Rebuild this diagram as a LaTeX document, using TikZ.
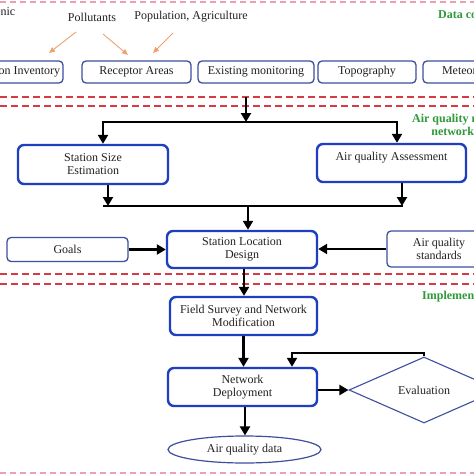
\documentclass[tikz,border=0pt]{standalone}
\usepackage{fontspec}
\setmainfont{Liberation Serif}
\usetikzlibrary{arrows.meta,shapes.geometric}
\definecolor{boxblue}{HTML}{1E3FBF}
\definecolor{thinblue}{HTML}{3D4F9E}
\definecolor{redline}{HTML}{D83A44}
\definecolor{pinkline}{HTML}{E9A0B0}
\definecolor{labgreen}{HTML}{2E9A3A}
\definecolor{arrorange}{HTML}{F0A070}
\definecolor{txt}{HTML}{222222}
\begin{document}
\begin{tikzpicture}[x=1pt,y=-1pt,
  every node/.style={font=\fontsize{12}{13}\selectfont, text=txt},
  thinbox/.style={draw=thinblue, line width=1.3pt, rounded corners=4pt, minimum height=22pt, inner sep=0pt, align=center},
  thickbox/.style={draw=boxblue, line width=2.4pt, rounded corners=6pt, minimum width=149pt, minimum height=38pt, align=center, inner sep=0pt},
  arr/.style={line width=2.2pt, -{Triangle[length=9pt,width=10pt]}},
  plainln/.style={line width=2.2pt},
  orarr/.style={draw=arrorange, line width=0.9pt, -{Triangle[length=6pt,width=5pt]}},
  sepline/.style={draw=redline, line width=1.6pt, dash pattern=on 7pt off 4pt},
  pinkedge/.style={draw=pinkline, line width=2pt, dash pattern=on 6pt off 4pt},
  phase/.style={font=\bfseries\fontsize{12}{13}\selectfont, text=labgreen, align=center, inner sep=0pt},
  lab/.style={inner sep=0pt}
]
\useasboundingbox (0,0) rectangle (474,474);
\clip (0,0) rectangle (474,474);
\fill[white] (0,0) rectangle (474,474);

% separators
\draw[pinkedge] (0,1.5) -- (474,1.5);
\draw[pinkedge] (0,472.5) -- (474,472.5);
\draw[sepline] (0,97) -- (474,97);
\draw[sepline] (0,106) -- (474,106);
\draw[sepline] (0,274) -- (474,274);
\draw[sepline] (0,284) -- (474,284);

% phase labels
\node[phase, anchor=west] (ph1) at (438,14) {Data collection};
\node[phase] (ph2) at (470.5,126.5) {Air quality monitoring\\network design};
\node[phase, anchor=west] (ph3) at (422,297) {Implementation};

% top labels
\node[lab, anchor=east] (anth) at (15.5,13) {Anthropogenic};
\node[lab] (pol) at (92,17) {Pollutants};
\node[lab] (popag) at (191,17) {Population, Agriculture};

% top row boxes
\node[thinbox, minimum width=100pt] (inv) at (13,72) {Emission Inventory};
\node[thinbox, minimum width=109pt] (rec) at (136.5,72) {Receptor Areas};
\node[thinbox, minimum width=116pt] (exm) at (256,72) {Existing monitoring};
\node[thinbox, minimum width=98pt] (topo) at (367,72) {Topography};
\node[thinbox, minimum width=100pt] (met) at (473,72) {Meteorology};

% orange arrows
\coordinate (o1a) at (76,32);  \coordinate (o1b) at (49,53);
\coordinate (o2a) at (103,34); \coordinate (o2b) at (128,55);
\coordinate (o3a) at (173,33); \coordinate (o3b) at (153,53);
\draw[orarr] (o1a) -- (o1b);
\draw[orarr] (o2a) -- (o2b);
\draw[orarr] (o3a) -- (o3b);

% design boxes
\node[thickbox, minimum width=150pt, minimum height=39pt] (sse) at (93,164.5) {Station Size\\Estimation};
\node[thickbox] (aqa) at (391.5,163) {Air quality Assessment\\\mbox{}};
\node[thinbox, minimum width=121pt, minimum height=24pt] (goals) at (67.5,249.5) {Goals};
\node[thickbox, minimum width=150pt, minimum height=37pt] (sld) at (242,249.5) {Station Location\\Design};
\node[thinbox, minimum width=104pt, minimum height=36pt] (aqs) at (439,249) {Air quality\\standards};

% implementation
\node[thickbox, minimum width=147pt] (fsm) at (243.5,316) {Field Survey and Network\\Modification};
\node[thickbox, minimum width=149pt] (nd) at (242.5,387) {Network\\Deployment};
\node[draw=thinblue, line width=1.2pt, ellipse, minimum width=153pt, minimum height=27pt, inner sep=0pt] (aqd) at (244.5,449.5) {Air quality data};
\node[draw=thinblue, line width=1.1pt, diamond, minimum width=150pt, minimum height=66pt, inner sep=0pt] (eval) at (424,390) {Evaluation};

% connectors
\coordinate (top) at (246,97);
\coordinate (j1) at (246,122);
\coordinate (j1l) at (103,122);
\coordinate (j1r) at (397,122);
\draw[arr] (top) -- (j1);
\draw[arr] (j1) -| (j1l |- sse.north);
\draw[arr] (j1) -| (j1r |- aqa.north);

\coordinate (j2l) at (103,206);
\coordinate (j2r) at (403,206);
\coordinate (j2) at (248,206);
\draw[plainln] (j2l) -- (j2r);
\draw[arr] ([xshift=15pt]sse.south) -- ([xshift=15pt]sse.south |- j2l);
\draw[arr] ([xshift=10.5pt]aqa.south) -- ([xshift=10.5pt]aqa.south |- j2r);
\draw[arr] (j2) -- (j2 |- sld.north);

\draw[arr] (goals.east) -- (goals.east -| sld.west);
\draw[arr] (aqs.west) -- (aqs.west -| sld.east);
\draw[arr] ([xshift=2pt]sld.south) -- ([xshift=2pt]sld.south |- fsm.north);
\draw[arr] (fsm.south) -- (fsm.south |- nd.north);
\draw[arr] ([xshift=2.5pt]nd.south) -- ([xshift=2.5pt]nd.south |- aqd.north);
\draw[arr] (nd.east |- eval.west) -- (eval.west);
\coordinate (fb) at (292,353);
\draw[arr, line width=2pt] (eval.north) |- (fb) -- (fb |- nd.north);
\end{tikzpicture}
\end{document}
